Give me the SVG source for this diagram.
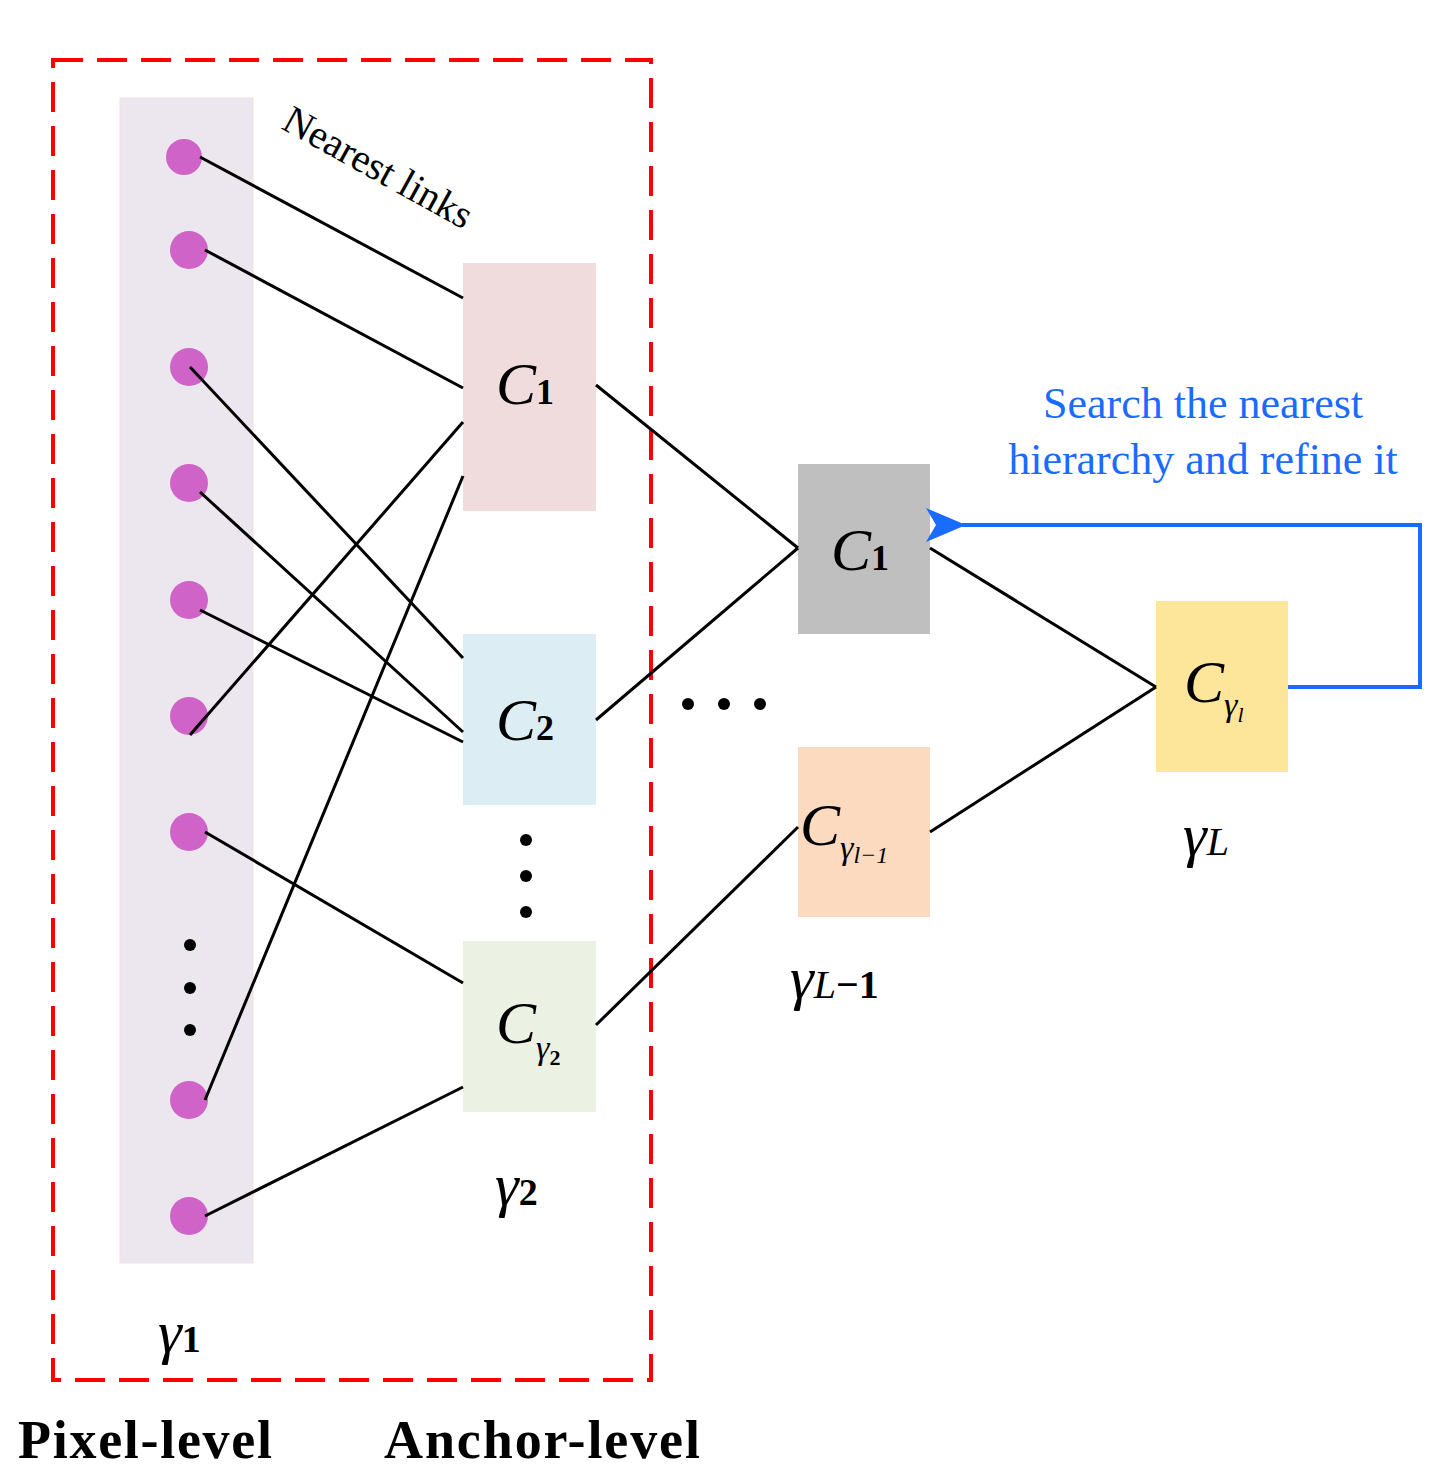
<svg xmlns="http://www.w3.org/2000/svg" width="1449" height="1479" viewBox="0 0 1449 1479">
<style>
.m{font-family:"Liberation Serif",serif;font-style:italic;fill:#000}
.s{font-family:"Liberation Serif",serif;fill:#000}
.c line{stroke:#000;stroke-width:3}
.d{fill:#d063c8}
</style>
<defs><marker id="ar" markerWidth="40" markerHeight="40" refX="4" refY="20" orient="auto" markerUnits="userSpaceOnUse" viewBox="0 0 40 40"><path d="M0,20 L40,3 L30,20 L40,37 Z" fill="#1a6bff"/></marker></defs>
<rect width="1449" height="1479" fill="#fff"/>
<rect x="53" y="60" width="598" height="1320" fill="none" stroke="#f00" stroke-width="4" stroke-dasharray="30,14"/>
<g id="pixcol"><rect x="120" y="98" width="133" height="1165" fill="#ece6ee" stroke="#f3e0e0"/></g>
<g id="pixels">
<circle class="d" cx="184" cy="157" r="18"/><circle class="d" cx="189" cy="250" r="19"/><circle class="d" cx="189" cy="367" r="19"/><circle class="d" cx="189" cy="483" r="19"/><circle class="d" cx="189" cy="600" r="19"/><circle class="d" cx="189" cy="716" r="19"/><circle class="d" cx="189" cy="832" r="19"/><circle class="d" cx="189" cy="1100" r="19"/><circle class="d" cx="189" cy="1216" r="19"/>
<circle cx="190" cy="945" r="6"/><circle cx="190" cy="988" r="6"/><circle cx="190" cy="1030" r="6"/>
</g>
<g id="a1"><rect x="463" y="263" width="133" height="248" fill="#f0dcdc"/><text class="m" x="496" y="404" font-size="60">C<tspan font-size="36" font-style="normal" font-weight="bold">1</tspan></text></g>
<g id="a2"><rect x="463" y="634" width="133" height="171" fill="#dceef4"/><text class="m" x="496" y="740" font-size="60">C<tspan font-size="36" font-style="normal" font-weight="bold">2</tspan></text></g>
<g id="a3"><rect x="463" y="941" width="133" height="171" fill="#ebf1e3"/><text class="m" x="496" y="1043" font-size="60">C<tspan font-size="34" dy="16">γ</tspan><tspan font-size="22" font-style="normal" font-weight="bold" dy="6">2</tspan></text></g>
<g id="vd"><circle cx="526" cy="840" r="6"/><circle cx="526" cy="876" r="6"/><circle cx="526" cy="912" r="6"/></g>
<g id="hd"><circle cx="688" cy="704" r="6"/><circle cx="724" cy="704" r="6"/><circle cx="760" cy="704" r="6"/></g>
<g id="b1"><rect x="798" y="464" width="132" height="170" fill="#bfbfbf"/><text class="m" x="831" y="570" font-size="60">C<tspan font-size="36" font-style="normal" font-weight="bold">1</tspan></text></g>
<g id="b2"><rect x="798" y="747" width="132" height="170" fill="#fbdac0"/><text class="m" x="800" y="845" font-size="60">C<tspan font-size="34" dy="14">γ</tspan><tspan font-size="24" dy="4">l−1</tspan></text></g>
<g id="b3"><rect x="1156" y="601" width="132" height="171" fill="#fde59a"/><text class="m" x="1184" y="702" font-size="60">C<tspan font-size="34" dy="14">γ</tspan><tspan font-size="22" dy="6">l</tspan></text></g>
<g class="c" id="connectors">
<line x1="200" y1="157" x2="463" y2="298"/><line x1="205" y1="250" x2="463" y2="388"/><line x1="190" y1="367" x2="463" y2="658"/><line x1="200" y1="492" x2="463" y2="732"/><line x1="200" y1="610" x2="463" y2="742"/><line x1="190" y1="735" x2="463" y2="422"/><line x1="205" y1="832" x2="463" y2="983"/><line x1="205" y1="1100" x2="463" y2="476"/><line x1="205" y1="1216" x2="463" y2="1087"/>
<line x1="596" y1="385" x2="798" y2="548"/><line x1="596" y1="720" x2="798" y2="548"/><line x1="596" y1="1025" x2="798" y2="827"/><line x1="930" y1="548" x2="1156" y2="687"/><line x1="930" y1="832" x2="1156" y2="687"/>
<polyline points="1288,687 1420,687 1420,525 962,525" fill="none" stroke="#1a6bff" stroke-width="4" marker-end="url(#ar)"/>
</g>
<text class="s" x="280" y="128" font-size="40" transform="rotate(29 280 128)">Nearest links</text>
<text x="1203" y="418" font-family="Liberation Serif,serif" font-size="44" fill="#1a6bff" text-anchor="middle">Search the nearest</text>
<text x="1203" y="474" font-family="Liberation Serif,serif" font-size="44" fill="#1a6bff" text-anchor="middle">hierarchy and refine it</text>
<text class="m" x="158" y="1352" font-size="60">γ<tspan font-size="38" font-style="normal" font-weight="bold">1</tspan></text>
<text class="m" x="495" y="1205" font-size="60">γ<tspan font-size="38" font-style="normal" font-weight="bold">2</tspan></text>
<text class="m" x="790" y="998" font-size="60">γ<tspan font-size="40">L</tspan><tspan font-size="40" font-style="normal" font-weight="bold">−1</tspan></text>
<text class="m" x="1183" y="855" font-size="60">γ<tspan font-size="40">L</tspan></text>
<text class="s" x="18" y="1458" font-size="54" font-weight="bold" textLength="254">Pixel-level</text>
<text class="s" x="384" y="1458" font-size="54" font-weight="bold" textLength="316">Anchor-level</text>
</svg>
